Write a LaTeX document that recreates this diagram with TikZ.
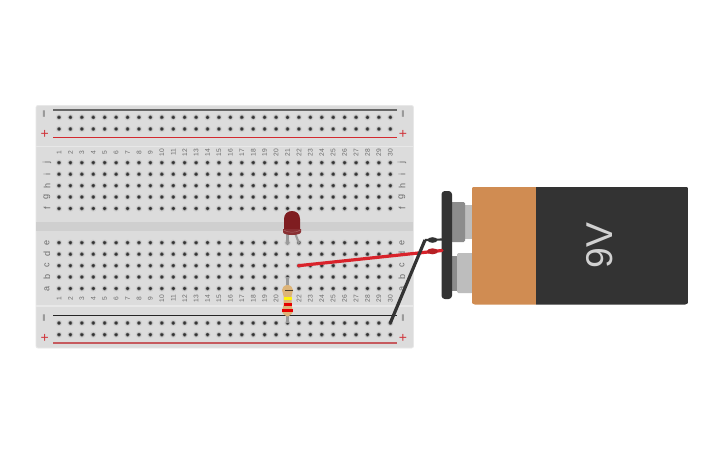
\documentclass[tikz,border=0pt]{standalone}
\usepackage{fontspec}
\setmainfont{Liberation Sans}
\definecolor{board}{HTML}{DCDCDC}
\definecolor{boardedge}{HTML}{E8E8E8}
\definecolor{channel}{HTML}{CFCFCF}
\definecolor{holehalo}{HTML}{CFCFCF}
\definecolor{holedark}{HTML}{333333}
\definecolor{labelgray}{HTML}{6A6A6A}
\definecolor{toprailred}{HTML}{D22A30}
\definecolor{railredb}{HTML}{C65A5E}
\definecolor{plusred}{HTML}{D0343A}
\definecolor{batdark}{HTML}{333333}
\definecolor{batorange}{HTML}{D08C52}
\definecolor{termdark}{HTML}{8C8C8C}
\definecolor{termlight}{HTML}{BDBDBD}
\definecolor{wirered}{HTML}{D9232B}
\definecolor{clipred}{HTML}{B72025}
\definecolor{ledred}{HTML}{7F1D20}
\definecolor{ledleg}{HTML}{9A9A9A}
\definecolor{restan}{HTML}{DDB478}
\tikzset{
  x=0.75pt,y=-0.75pt,
  hlabel/.style={font=\fontsize{5}{5}\selectfont,text=labelgray,rotate=90,inner sep=0pt},
  letterlabel/.style={font=\fontsize{6.8}{7}\selectfont,text=labelgray,rotate=90,inner sep=0pt},
  minuslabel/.style={font=\fontsize{20}{20}\selectfont,text=black!40,rotate=90,inner sep=0pt},
  pluslabel/.style={font=\fontsize{10.5}{10}\selectfont,text=plusred,inner sep=0pt},
  wirestyle/.style={line width=2.4pt,line cap=round},
}
\newcommand{\holerow}[1]{%
  \foreach \c in {0,...,29}{%
    \fill[holehalo] ({59+11.425*\c},#1) circle (3.2);
    \fill[holedark!55!holehalo] ({59+11.425*\c},#1) circle (2);
    \fill[holedark] ({59+11.425*\c},#1) circle (1.5);
  }}
\begin{document}
\begin{tikzpicture}
\useasboundingbox (0,0) rectangle (725,453);
\fill[white] (0,0) rectangle (725,453);
% board
\fill[board,draw=boardedge,line width=.6pt,rounded corners=1.5pt] (36,105.5) rectangle (413.5,348);
\fill[channel] (36.3,222) rectangle (413.2,231);
\draw[boardedge,line width=.8pt] (36.3,146.5) -- (413.2,146.5);
\draw[boardedge,line width=.8pt] (36.3,306) -- (413.2,306);
% rails
\draw[black!60,line width=1.1pt] (53,110) -- (397,110);
\draw[black!85,line width=.9pt] (53,315.3) -- (397,315.3);
\draw[railredb,line width=1.2pt] (53,343) -- (397,343);
% holes
\foreach \r in {117.3,129,162.7,174.2,185.7,197,208.5,242.7,254.2,265.7,277,288.5,323,334.7}{\holerow{\r}}
\fill[toprailred] (53,136.8) rectangle (397,138.4);
% rail signs
\node[minuslabel] (mtl) at (47.7,114) {-};
\node[pluslabel] (ptl) at (44.7,134.3) {+};
\node[minuslabel] (mtr) at (406.2,114) {-};
\node[pluslabel] (ptr) at (403,134.3) {+};
\node[minuslabel] (mbl) at (47.7,318.5) {-};
\node[pluslabel] (pbl) at (44.7,338.7) {+};
\node[minuslabel] (mbr) at (406.2,318.5) {-};
\node[pluslabel] (pbr) at (403,338.7) {+};
% numbers
\foreach \n in {1,...,30}{
  \node[hlabel] (nt\n) at ({59+11.425*(\n-1)},152.5) {\n};
  \node[hlabel] (nb\n) at ({59+11.425*(\n-1)},298.5) {\n};
}
% letters
\foreach \l/\y in {j/162.7,i/174.2,h/185.7,g/197,f/208.5,e/242.7,d/254.2,c/265.7,b/277,a/288.5}{
  \node[letterlabel] (ll\l) at (47,\y) {\l};
  \node[letterlabel] (lr\l) at (402,\y) {\l};
}
% LED
\coordinate (legA) at (287.5,243.5);
\coordinate (legB) at (299,243.5);
\draw[ledleg,line width=1.6pt] (287.5,234) -- (legA);
\draw[ledleg,line width=1.6pt] (295.5,234) -- (legB);
\fill[ledred] (284,229) -- (284,219) .. controls (284,214) and (287.5,211) .. (292,211) .. controls (296.5,211) and (300,214) .. (300,219) -- (300,229) -- cycle;
\fill[ledred!92!white] (283,229) -- (301,229) -- (301,232) .. controls (301,236) and (283,236) .. (283,232) -- cycle;
\draw[ledred!70!white,line width=.4pt] (283.5,230) .. controls (288,233) and (296,233) .. (300.5,230);
% resistor
\coordinate (resT) at (287.5,277);
\coordinate (resB) at (287.5,323);
\draw[ledleg,line width=1.6pt] (resT) -- (resB);
\fill[restan] (287.5,285) .. controls (291,285) and (293,288) .. (293,290)
  .. controls (293,292.5) and (291.5,293) .. (291.5,296) -- (291.5,305)
  .. controls (291.5,308) and (293,309) .. (293,311)
  .. controls (293,314) and (289,316) .. (287.5,316.5)
  .. controls (286,316) and (282,314) .. (282,311)
  .. controls (282,309) and (283.5,308) .. (283.5,305) -- (283.5,296)
  .. controls (283.5,293) and (282,292.5) .. (282,290)
  .. controls (282,288) and (284,285) .. (287.5,285) -- cycle;
\fill[black!65!restan] (284.5,289.7) rectangle (293,290.5);
\fill[yellow!95!white] (283.5,297) rectangle (291.5,300.3);
\fill[red!90!black] (283.5,303) rectangle (291.5,306);
\fill[red!90!black] (282.3,309) rectangle (292.8,312);
% battery
\fill[termlight] (464,205) rectangle (472,239);
\fill[termdark,rounded corners=1pt] (451,202) rectangle (465,242);
\fill[termdark] (451,256) rectangle (458,291);
\fill[termlight,rounded corners=1pt] (457,253) rectangle (473,293);
\begin{scope}
\clip[rounded corners=2.5pt] (471.5,186.5) rectangle (688.5,304.5);
\fill[batorange] (471.5,186.5) rectangle (536,304.5);
\fill[batdark] (536,186.5) rectangle (688.5,304.5);
\end{scope}
\fill[batdark,rounded corners=2.5pt] (441.5,191) rectangle (452,299);
\node[rotate=90,font=\fontsize{28}{28}\selectfont,text=black!18,inner sep=0pt] (volt) at (600,245.5) {9V};
% connectors
\coordinate (clipB) at (442,239.5);
\coordinate (clipR) at (442,250.5);
\coordinate (bendB) at (425,240);
\coordinate (holeW) at (390.3,323);
\coordinate (holeR) at (298.4,265.7);
\draw[wirered,wirestyle] (holeR) -- (clipR);
\draw[batdark,wirestyle,line cap=butt] (holeW) -- (bendB);
\draw[batdark,line width=1.6pt] (bendB) -- (clipB);
\fill[batdark] (432.5,240) ellipse (5 and 2.8);
\fill[clipred] (432.5,251.3) ellipse (5.5 and 3);
\end{tikzpicture}
\end{document}
